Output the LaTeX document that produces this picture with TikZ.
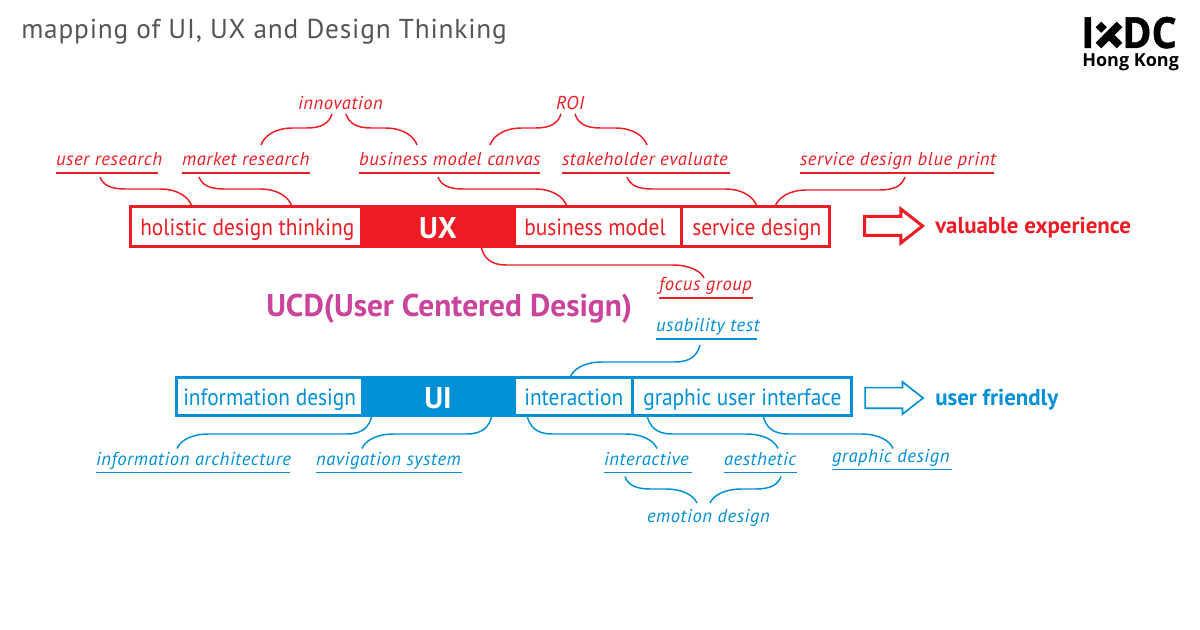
\documentclass[tikz,border=0pt]{standalone}
\usepackage{fontspec}
\setmainfont{PT Sans}
\newfontfamily\lblfont[LetterSpace=3]{PT Sans}
\newfontfamily\barfont[FakeStretch=0.91]{PT Sans}
\newfontfamily\logofont[FakeStretch=0.92,FakeBold=1]{Open Sans}
\newfontfamily\logosmall{Open Sans}
\usetikzlibrary{calc,shapes.arrows}
\definecolor{uxred}{HTML}{ED1C24}
\definecolor{uiblue}{HTML}{0090D7}
\definecolor{ucdpink}{HTML}{C9449A}
\definecolor{titlegray}{HTML}{555555}
\newcommand\fs[1]{\fontsize{\the\dimexpr#1pt*3/4\relax}{#1pt}\selectfont}
\newlength\uu \setlength\uu{0.75pt}
\newcommand\Seg[6]{% name, x1, x2, ytop, ybottom, opts/text
  \node[seg,#6,minimum width={(#3-#2)*\uu},minimum height={(#5-#4)*\uu}] (#1) at ({(#2+#3)/2},{(#4+#5)/2}) {};}
\newcommand\Lab[7]{% name,x,base,height,depth,underline(x2 or none),text
  \node[lab,text height=(#4+1)*\uu,text depth=(#5-1)*\uu] (#1) at (#2,#3+1) {#7};
  \ifx\relax#6\relax\else\draw[ul] (#2,#3+8) -- (#6,#3+8);\fi}
\newcommand\Curl[3]{%
  \draw[conn] let \p1=(#1),\p2=(#2),\n1={(\x2>\x1)?1:-1},\n2={-0.75*#3} in
    (\p1) .. controls ({\x1+\n1*2.25pt},{\n2*1pt+(\y1-\n2*1pt)*0.35}) and ({\x1+\n1*7.5pt},\n2 pt) .. ({\x1+\n1*19pt},\n2 pt)
    -- ({\x2-\n1*24pt},\n2 pt)
    .. controls ({\x2-\n1*10pt},\n2 pt) and ({\x2-\n1*2.25pt},{\n2*1pt+(\y2-\n2*1pt)*0.5}) .. (\p2);}
\tikzset{
  x=0.75pt,y=-0.75pt,
  seg/.style={rectangle,outer sep=0pt,inner sep=0pt,line width=2.25pt},
  lab/.style={anchor=base west,inner sep=0pt,outer sep=0pt,font=\lblfont\itshape\fs{18.6}},
  ul/.style={line width=1pt},
  conn/.style={line width=1.1pt},
  barlabel/.style={anchor=base west,inner sep=0pt,font=\barfont\fs{23.5}},
  barhead/.style={anchor=base,inner sep=0pt,font=\bfseries\fs{30},text=white},
  result/.style={anchor=base west,inner sep=0pt,font=\bfseries\fs{22.9}},
  arr/.style={single arrow,single arrow tip angle=76,single arrow head indent=0pt,shape border rotate=0,inner xsep=0pt,outer sep=0pt,minimum height=58*\uu}
}
\begin{document}
\begin{tikzpicture}
\useasboundingbox (0,0) rectangle (1200,630);
\fill[white] (0,0) rectangle (1200,630);
% title
\node[anchor=base west,inner sep=0pt,text=titlegray,font=\addfontfeatures{LetterSpace=3}\fs{27.3}] (title) at (21,39) {mapping of UI, UX and Design Thinking};
% logo
\node[anchor=base west,inner sep=0pt,font=\logofont\bfseries\fs{43}] (logoa) at (1081,48) {I};
\fill[black,rotate around={45:(1109,35)}] (1094,31) rectangle (1124,39);
\fill[black,rotate around={45:(1109,35)}] (1105,35) rectangle (1113,50);
\fill[black,rotate around={45:(1109,35)}] (1105,20) rectangle (1113,28);
\node[anchor=base west,inner sep=0pt,font=\logofont\bfseries\fs{43}] (logob) at (1122,48) {DC};
\node[anchor=base west,inner sep=0pt,font=\logosmall\bfseries\fs{18}] (logoc) at (1082,66.5) {Hong Kong};
% red group
\begin{scope}[draw=uxred,text=uxred,color=uxred]
\Seg{hdt}{130.5}{361}{206.5}{246.5}{draw=uxred}
\Seg{ux}{361}{514}{206.5}{246.5}{draw=uxred,fill=uxred}
\Seg{bm}{514}{681.5}{206.5}{246.5}{draw=uxred}
\Seg{sd}{681.5}{829.5}{206.5}{246.5}{draw=uxred}
\node[barlabel] (t1) at (140,236) {holistic design thinking};
\node[barhead] (t2) at (438,239) {UX};
\node[barlabel] (t3) at (524,236) {business model};
\node[barlabel] (t4) at (692,236) {service design};
\node[arr,draw=uxred,line width=2.25pt,inner ysep=8*\uu,single arrow head extend=7.5*\uu] (ra) at (887.5,226) {};
\node[result,text=uxred] (rv) at (935,233.5) {valuable experience};
\Lab{inn}{298}{109}{14}{5}{}{innovation}
\Lab{roi}{556}{109}{14}{5}{}{ROI}
\Lab{ur}{56}{165}{20}{12}{158}{user research}
\Lab{mr}{182}{165}{20}{12}{310}{market research}
\Lab{bmc}{359}{165}{20}{12}{540}{business model canvas}
\Lab{se}{562}{165}{20}{12}{730}{stakeholder evaluate}
\Lab{sdb}{800}{165}{12}{12}{994}{service design blue print}
\Lab{fg}{659}{290}{12}{12}{753}{focus group}
\Curl{332,0 |- inn.south}{261,0 |- mr.north}{128}
\Curl{346,0 |- inn.south}{417,0 |- bmc.north}{128}
\Curl{561,0 |- roi.south}{490,0 |- bmc.north}{128}
\Curl{575,0 |- roi.south}{647,0 |- se.north}{128}
\Curl{100,0 |- ur.south}{192,0 |- hdt.north}{189}
\Curl{199,0 |- mr.south}{292,0 |- hdt.north}{189}
\Curl{438,0 |- bmc.south}{567,0 |- bm.north}{189}
\Curl{627,0 |- se.south}{757,0 |- sd.north}{189}
\Curl{905,0 |- sdb.south}{775,0 |- sd.north}{190}
\Curl{481,0 |- ux.south}{704,0 |- fg.north}{265}
\end{scope}
% UCD
\node[anchor=base west,inner sep=0pt,text=ucdpink,font=\bfseries\fs{31.4}] (ucd) at (266,316.5) {UCD(User Centered Design)};
% blue group
\begin{scope}[draw=uiblue,text=uiblue,color=uiblue]
\Seg{idn}{176.5}{362}{377.5}{415.5}{draw=uiblue}
\Seg{ui}{362}{514}{377.5}{415.5}{draw=uiblue,fill=uiblue}
\Seg{itc}{514}{632}{377.5}{415.5}{draw=uiblue}
\Seg{gui}{632}{851.5}{377.5}{415.5}{draw=uiblue}
\node[barlabel] (b1) at (183,406) {information design};
\node[barhead] (b2) at (438,409) {UI};
\node[barlabel] (b3) at (524,406) {interaction};
\node[barlabel] (b4) at (643,406) {graphic user interface};
\node[arr,draw=uiblue,line width=1.25pt,inner ysep=9.5*\uu,single arrow head extend=5.75*\uu] (ba) at (887.5,398) {};
\node[result,text=uiblue] (rf) at (935,405.5) {user friendly};
\Lab{ut}{656}{331}{12}{14}{757}{usability test}
\Lab{ia}{96}{464.5}{16}{12}{290}{information architecture}
\Lab{ns}{316}{464.5}{16}{12}{462}{navigation system}
\Lab{iv}{604}{464.5}{16}{12}{692}{interactive}
\Lab{ae}{724}{464.5}{16}{12}{797}{aesthetic}
\Lab{gd}{832}{461.5}{13}{12}{952}{graphic design}
\Lab{ed}{647}{522}{19}{5}{}{emotion design}
\Curl{700,0 |- ut.south}{570,0 |- itc.north}{362}
\Curl{372,0 |- idn.south}{177,0 |- ia.north}{434}
\Curl{492,0 |- ui.south}{362,0 |- ns.north}{434}
\Curl{527,0 |- itc.south}{657,0 |- iv.north}{434}
\Curl{647,0 |- gui.south}{778,0 |- ae.north}{434}
\Curl{763,0 |- gui.south}{893,0 |- gd.north}{434}
\Curl{625,0 |- iv.south}{697,0 |- ed.north}{489}
\Curl{781,0 |- ae.south}{710,0 |- ed.north}{489}
\end{scope}
\end{tikzpicture}
\end{document}
